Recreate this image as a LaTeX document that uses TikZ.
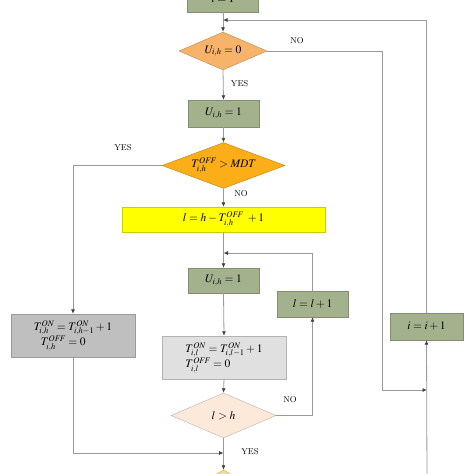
\documentclass[tikz,border=0pt]{standalone}
\usepackage{fontspec}
\setmainfont{Liberation Serif}
\usepackage{mathptmx}
\usetikzlibrary{shapes.geometric,arrows.meta}
\definecolor{grn}{HTML}{A3B18D}
\definecolor{grnb}{HTML}{7B8A68}
\definecolor{or1}{HTML}{F7B36A}
\definecolor{or2}{HTML}{FBAE17}
\definecolor{yel}{HTML}{FFFF00}
\definecolor{gr1}{HTML}{BFBFBF}
\definecolor{gr2}{HTML}{E0E0E0}
\definecolor{pch}{HTML}{FCE9D9}
\definecolor{ylw}{HTML}{EFE38A}
\definecolor{ln}{HTML}{9A9A9A}
\tikzset{
  box/.style={draw=#1!80!black, fill=#1, minimum width=71pt, minimum height=26pt, inner sep=0pt, font=\fontsize{11.5}{13}\selectfont},
  dia/.style={diamond, aspect=2.1, draw=#1!75!black, fill=#1, inner sep=0pt, font=\fontsize{11.5}{13}\selectfont},
  conn/.style={draw=ln, line width=0.8pt},
  arr/.style={conn, -{Latex[length=4.5pt,width=4pt,fill=black!75,color=black!75]}},
  lbl/.style={font=\fontsize{8.5}{10}\selectfont, text=black}
}
\begin{document}
\begin{tikzpicture}[x=1pt,y=-1pt]
\useasboundingbox (0,0) rectangle (474,474);
\clip (0,0) rectangle (474,474);
% nodes
\node[box=grn] (top) at (223,-1) {$i=1$};
\node[dia=or1, minimum width=88pt, minimum height=38pt] (d1) at (223,51) {$U_{i,h}=0$};
\node[box=grn, minimum height=27pt] (u1) at (223.5,113.5) {$U_{i,h}=1$};
\node[dia=or2, minimum width=123pt, minimum height=43pt] (d2) at (223.5,165.5) {$T_{i,h}^{\mathit{OFF}}>\mathit{MDT}$};
\node[box=yel, minimum width=203pt, minimum height=25pt] (yb) at (223.5,219.5) {$l=h-T_{i,h}^{\mathit{OFF}}\;+1$};
\node[box=grn, minimum height=25pt] (u2) at (223.5,280.5) {$U_{i,h}=1$};
\node[box=grn] (ll) at (312.5,304) {$l=l+1$};
\node[box=gr1, minimum width=124pt, minimum height=43pt, align=left] (g1) at (73,335.5) {$T_{i,h}^{\mathit{ON}}=T_{i,h-1}^{\mathit{ON}}+1$\\[-1pt]\hspace*{7pt}$T_{i,h}^{\mathit{OFF}}=0$};
\node[box=gr2, minimum width=124pt, minimum height=43pt, align=left] (g2) at (224,357.5) {$T_{i,l}^{\mathit{ON}}=T_{i,l-1}^{\mathit{ON}}+1$\\[-1pt]$T_{i,l}^{\mathit{OFF}}=0$};
\node[dia=pch, minimum width=105pt, minimum height=45pt] (d3) at (223.5,415.5) {$l>h$};
\node[box=grn, minimum width=73pt, minimum height=27pt] (ii) at (426.5,326.5) {$i=i+1$};
\node[dia=ylw, minimum width=70pt, minimum height=40pt] (d4) at (223.5,490) {};
% coordinates
\coordinate (m1) at (223,20);
\coordinate (m2) at (223.5,253);
\coordinate (m3) at (223.5,453);
\coordinate (c2) at (427,390);
\coordinate (bot) at (427,480);
% connectors
\draw[conn] (top.south) -- (m1);
\draw[arr] (m1) -- (d1.north);
\draw[arr] (ii.north) |- (m1);
\draw[arr] (d1.east) -- (382,51) |- (c2);
\draw[arr] (bot) -- (ii.south);
\draw[arr] (d1.south) -- (u1.north) node[lbl, pos=0.45, right=4pt] {YES};
\draw[arr] (u1.south) -- (d2.north);
\draw[arr] (d2.west) -| (g1.north);
\draw[arr] (d2.south) -- (yb.north);
\draw[conn] (yb.south) -- (m2);
\draw[arr] (m2) -- (u2.north);
\draw[arr] (ll.north) |- (m2);
\draw[arr] (u2.south) -- (g2.north);
\draw[arr] (g2.south) -- (d3.north);
\draw[arr] (d3.east) -| (ll.south);
\draw[arr] (d3.south) -- (d4.north);
\draw[arr] (g1.south) |- (m3);
% labels
\node[lbl] (lno1) at (297,41) {NO};
\node[lbl] (lyes2) at (123,148) {YES};
\node[lbl] (lno2) at (241,194) {NO};
\node[lbl] (lno3) at (290,400) {NO};
\node[lbl] (lyes3) at (250,452) {YES};
\end{tikzpicture}
\end{document}
